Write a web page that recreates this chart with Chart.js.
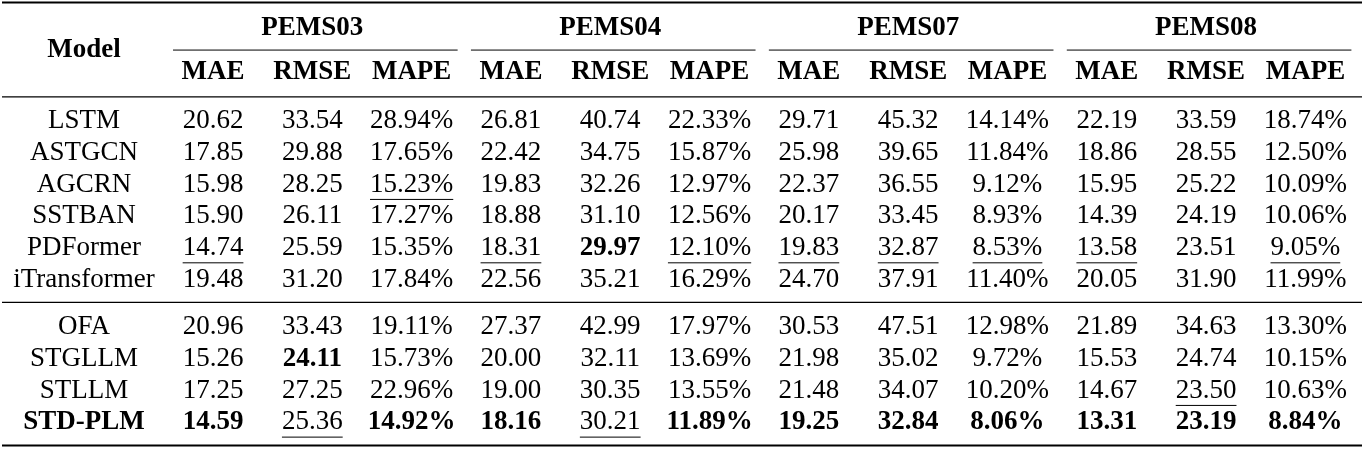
<!DOCTYPE html>
<html>
<head>
<meta charset="utf-8">
<script src="https://cdn.jsdelivr.net/npm/chart.js@4"></script>
<style>
  html, body { margin: 0; padding: 0; background: #fff; }
  #wrap { width: 1364px; height: 450px; }
</style>
</head>
<body>
<div id="wrap"><canvas id="myChart"></canvas></div>
<script>
// table content
const datasetsNames = ['PEMS03', 'PEMS04', 'PEMS07', 'PEMS08'];
const metrics = ['MAE', 'RMSE', 'MAPE'];
const models = ['LSTM', 'ASTGCN', 'AGCRN', 'SSTBAN', 'PDFormer', 'iTransformer',
                'OFA', 'STGLLM', 'STLLM', 'STD-PLM'];
const values = [
  ['20.62', '33.54', '28.94%', '26.81', '40.74', '22.33%', '29.71', '45.32', '14.14%', '22.19', '33.59', '18.74%'],
  ['17.85', '29.88', '17.65%', '22.42', '34.75', '15.87%', '25.98', '39.65', '11.84%', '18.86', '28.55', '12.50%'],
  ['15.98', '28.25', '15.23%', '19.83', '32.26', '12.97%', '22.37', '36.55', '9.12%', '15.95', '25.22', '10.09%'],
  ['15.90', '26.11', '17.27%', '18.88', '31.10', '12.56%', '20.17', '33.45', '8.93%', '14.39', '24.19', '10.06%'],
  ['14.74', '25.59', '15.35%', '18.31', '29.97', '12.10%', '19.83', '32.87', '8.53%', '13.58', '23.51', '9.05%'],
  ['19.48', '31.20', '17.84%', '22.56', '35.21', '16.29%', '24.70', '37.91', '11.40%', '20.05', '31.90', '11.99%'],
  ['20.96', '33.43', '19.11%', '27.37', '42.99', '17.97%', '30.53', '47.51', '12.98%', '21.89', '34.63', '13.30%'],
  ['15.26', '24.11', '15.73%', '20.00', '32.11', '13.69%', '21.98', '35.02', '9.72%', '15.53', '24.74', '10.15%'],
  ['17.25', '27.25', '22.96%', '19.00', '30.35', '13.55%', '21.48', '34.07', '10.20%', '14.67', '23.50', '10.63%'],
  ['14.59', '25.36', '14.92%', '18.16', '30.21', '11.89%', '19.25', '32.84', '8.06%', '13.31', '23.19', '8.84%']
];
// best (bold) and second best (underlined) per column: row index
const bestRow   = [9, 7, 9, 9, 4, 9, 9, 9, 9, 9, 9, 9];
const secondRow = [4, 9, 2, 4, 9, 4, 4, 4, 4, 4, 8, 4];

const MODEL_X = -0.3;
const GROUP_GAP = 0.5;
const rowY = (r) => r + (r >= 6 ? GROUP_GAP : 0);

const points = [];
models.forEach((m, r) => values[r].forEach((v, c) => points.push({ x: c + 1, y: rowY(r), r, c })));

const tablePlugin = {
  id: 'table',
  afterDatasetsDraw(chart) {
    const { ctx, scales: { x, y } } = chart;
    const font = (b) => (b ? 'bold ' : '') + '27px "Liberation Serif", "Times New Roman", serif';
    const rule = (y0, x0, x1, w) => {
      ctx.beginPath(); ctx.lineWidth = w; ctx.strokeStyle = '#000';
      ctx.moveTo(x0, y.getPixelForValue(y0)); ctx.lineTo(x1, y.getPixelForValue(y0)); ctx.stroke();
    };
    const text = (s, xv, yv, bold, under) => {
      ctx.font = font(bold);
      const px = x.getPixelForValue(xv), py = y.getPixelForValue(yv);
      ctx.fillText(s, px, py);
      if (under) {
        const w = ctx.measureText(s).width;
        ctx.beginPath(); ctx.lineWidth = 1;
        ctx.moveTo(px - w / 2, py + 15); ctx.lineTo(px + w / 2, py + 15); ctx.stroke();
      }
    };
    ctx.save();
    ctx.fillStyle = '#000';
    ctx.textAlign = 'center';
    ctx.textBaseline = 'middle';
    const L = chart.chartArea.left + 2, R = chart.chartArea.right - 2;
    rule(-3.74, L, R, 2);
    rule(-0.76, L, R, 1.2);
    rule(5.72, L, R, 1.2);
    rule(10.24, L, R, 2);
    text('Model', MODEL_X, -2.24, true);
    datasetsNames.forEach((d, i) => {
      text(d, i * 3 + 2, -2.93, true);
      const x0 = x.getPixelForValue(i * 3 + 1) - 40, x1 = x.getPixelForValue(i * 3 + 3) + 46;
      rule(-2.24, x0, x1, 1);
      metrics.forEach((m, j) => text(m, i * 3 + j + 1, -1.55, true));
    });
    models.forEach((m, r) => text(m, MODEL_X, rowY(r), r === 9));
    chart.getDatasetMeta(0).data.forEach((el, k) => {
      const p = points[k];
      text(values[p.r][p.c], p.x, p.y, bestRow[p.c] === p.r, secondRow[p.c] === p.r);
    });
    ctx.restore();
  }
};

new Chart(document.getElementById('myChart').getContext('2d'), {
  type: 'scatter',
  data: { datasets: [{ data: points, pointRadius: 0, pointHoverRadius: 0 }] },
  options: {
    responsive: true,
    maintainAspectRatio: false,
    animation: false,
    events: [],
    layout: { padding: 0 },
    plugins: { legend: { display: false }, tooltip: { enabled: false } },
    scales: {
      x: { type: 'linear', display: false, min: -1.145, max: 12.59 },
      y: { type: 'linear', display: false, reverse: true, min: -3.82, max: 10.38 }
    }
  },
  plugins: [tablePlugin]
});
</script>
</body>
</html>
